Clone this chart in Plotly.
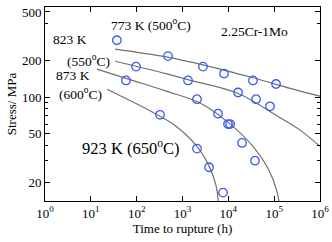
import plotly.graph_objects as go

# ---- data ----
# measured points: time to rupture (h), stress (MPa)
t_773 = [37, 483, 2800, 8050, 34500, 110000]
s_773 = [293, 217, 178, 156, 137, 128]

t_823 = [97, 1320, 16300, 40200, 81200]
s_823 = [178, 137, 109, 96, 84]

t_873 = [58.5, 2070, 5960, 9840, 10900, 19900, 38200]
s_873 = [137, 96, 73, 60, 60, 42, 30]

t_923 = [323, 2070, 3790, 7650]
s_923 = [71.5, 37.7, 26.5, 16.4]

# fitted curves
ct_773 = [33.7, 437, 2800, 34500, 222000, 1000000]
cs_773 = [248, 214, 184, 144, 118, 101.6]

ct_823 = [33.7, 437, 1320, 16300, 128000, 366000, 1000000]
cs_823 = [197, 156, 139, 107, 68.4, 53.5, 39.4]

ct_873 = [13.6, 71.6, 437, 2410, 10350, 34500, 73400, 115000, 134000]
cs_873 = [169.5, 139, 112, 89.4, 61.1, 39.4, 26, 16.8, 11.8]

ct_923 = [22.5, 227, 687, 2070, 3790, 5390, 6260]
cs_923 = [115.8, 74.8, 58.5, 39.4, 27.2, 18.7, 11.8]

x_tickvals = [1, 10, 100, 1000, 10000, 100000, 1000000]
x_ticktext = ["10<sup>0</sup>", "10<sup>1</sup>", "10<sup>2</sup>", "10<sup>3</sup>",
              "10<sup>4</sup>", "10<sup>5</sup>", "10<sup>6</sup>"]
y_tickvals = [20, 50, 100, 200, 500]
y_minorvals = [30, 40, 60, 70, 80, 90, 400]

FONT = "Liberation Serif"
LINE_C = "#707070"
MARK_C = "#3a5cf5"

fig = go.Figure()
for ct, cs in [(ct_773, cs_773), (ct_823, cs_823), (ct_873, cs_873), (ct_923, cs_923)]:
    fig.add_trace(go.Scatter(x=ct, y=cs, mode="lines",
                             line=dict(color=LINE_C, width=1.2, shape="spline", smoothing=1.0),
                             hoverinfo="skip", showlegend=False))
for t, s in [(t_773, s_773), (t_823, s_823), (t_873, s_873), (t_923, s_923)]:
    fig.add_trace(go.Scatter(x=t, y=s, mode="markers",
                             marker=dict(symbol="circle-open", size=8.5, color=MARK_C,
                                         line=dict(width=1.3, color=MARK_C)),
                             showlegend=False))

L, R, T, B = 45, 12, 7, 41
W, H = 332, 242
pw, ph = W - L - R, H - T - B

def px(x):
    return (x - L) / pw

def py(y):
    return (H - B - y) / ph

annots = [
    ("773 K (500<sup>o</sup>C)", 151, 24, 13.5),
    ("823 K", 70, 40, 13.5),
    ("(550<sup>o</sup>C)", 88, 60, 13.5),
    ("873 K", 73, 76, 13.5),
    ("(600<sup>o</sup>C)", 80, 93, 13.5),
    ("2.25Cr-1Mo", 254, 32, 13.5),
    ("923 K (650<sup>o</sup>C)", 130, 147, 16.5),
]
for text, x, y, size in annots:
    fig.add_annotation(text=text, x=px(x), y=py(y), xref="paper", yref="paper",
                       showarrow=False, font=dict(family=FONT, size=size, color="black"),
                       xanchor="center", yanchor="middle")

fig.update_layout(
    width=W, height=H,
    margin=dict(l=L, r=R, t=T, b=B, autoexpand=False),
    paper_bgcolor="white", plot_bgcolor="white",
    font=dict(family=FONT, size=13, color="black"),
    xaxis=dict(type="log", range=[0, 6], tickvals=x_tickvals, ticktext=x_ticktext,
               ticks="inside", ticklen=5, tickwidth=1, tickcolor="black",
               showline=True, linecolor="black", linewidth=1, mirror="allticks",
               showgrid=False, zeroline=False, automargin=False,
               tickfont=dict(family=FONT, size=13),
               title=dict(text="Time to rupture (h)", font=dict(family=FONT, size=13), standoff=4)),
    yaxis=dict(type="log", range=[1.146, 2.740], tickvals=y_tickvals,
               ticks="inside", ticklen=5, tickwidth=1, tickcolor="black",
               showline=True, linecolor="black", linewidth=1, mirror="allticks",
               showgrid=False, zeroline=False, automargin=False,
               minor=dict(tickvals=y_minorvals, ticks="inside", ticklen=3, tickcolor="black", showgrid=False),
               tickfont=dict(family=FONT, size=13),
               title=dict(text="Stress/ MPa", font=dict(family=FONT, size=13), standoff=2)),
)

fig.write_html("out.html", config={"displayModeBar": False},
               post_script="document.body.style.margin='0';document.body.style.overflow='hidden';")
